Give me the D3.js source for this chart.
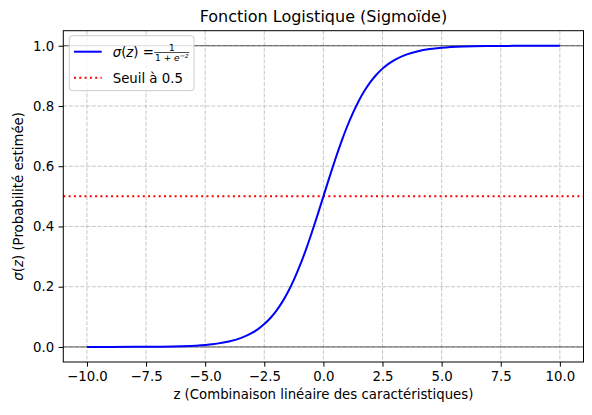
<!DOCTYPE html>
<html><head><meta charset="utf-8">
<script src="https://cdn.jsdelivr.net/npm/d3@7"></script>
<style>body{margin:0;background:#fff}svg{display:block;font-family:"DejaVu Sans",sans-serif}</style>
</head><body>
<svg id="c" width="592" height="415"></svg>
<script>
// Data
const zValues = [-10,-9,-8,-7,-6,-5,-4.5,-4,-3.5,-3,-2.75,-2.5,-2.25,-2,-1.75,-1.5,-1.25,-1,-0.75,-0.5,-0.25,0,
                 0.25,0.5,0.75,1,1.25,1.5,1.75,2,2.25,2.5,2.75,3,3.5,4,4.5,5,6,7,8,9,10];
const sigmaValues = [0.00005,0.00012,0.00034,0.00091,0.0025,0.0067,0.011,0.018,0.0293,0.0474,0.060,0.0759,0.0953,0.1192,0.148,0.1824,0.2227,0.2689,0.3208,0.3775,0.4378,0.5,
                 0.5622,0.6225,0.6792,0.7311,0.7773,0.8176,0.852,0.8808,0.9047,0.9241,0.940,0.9526,0.9707,0.982,0.989,0.9933,0.9975,0.99909,0.99966,0.99988,0.99995];
const threshold = 0.5;
const xTicks = [-10,-7.5,-5,-2.5,0,2.5,5,7.5,10];
const yTicks = [0,0.2,0.4,0.6,0.8,1.0];
const xDomain = [-11, 11];
const yDomain = [-0.05, 1.05];
const refLines = [0, 1];

const svg = d3.select("#c");
const L = 63.3, R = 583.5, T = 30.7, B = 362;
const x = d3.scaleLinear().domain(xDomain).range([L, R]);
const y = d3.scaleLinear().domain(yDomain).range([B, T]);

// grid
const grid = svg.append("g").attr("stroke", "#b0b0b0").attr("stroke-opacity", 0.7)
  .attr("stroke-width", 1).attr("stroke-dasharray", "4,1.7");
grid.selectAll(".gx").data(xTicks).join("line")
  .attr("x1", d => x(d)).attr("x2", d => x(d)).attr("y1", T).attr("y2", B);
grid.selectAll(".gy").data(yTicks).join("line")
  .attr("y1", d => y(d)).attr("y2", d => y(d)).attr("x1", L).attr("x2", R);

// reference lines at 0 and 1
svg.append("g").selectAll("line").data(refLines).join("line")
  .attr("x1", L).attr("x2", R).attr("y1", d => y(d)).attr("y2", d => y(d))
  .attr("stroke", "#000").attr("stroke-width", 0.8).attr("stroke-opacity", 0.8);

// threshold
svg.append("line").attr("x1", L).attr("x2", R).attr("y1", y(threshold)).attr("y2", y(threshold))
  .attr("stroke", "#ff0000").attr("stroke-width", 2).attr("stroke-dasharray", "2,3.3");

// sigmoid curve
const pts = zValues.map((z, i) => [z, sigmaValues[i]]);
svg.append("path").datum(pts)
  .attr("d", d3.line().x(d => x(d[0])).y(d => y(d[1])).curve(d3.curveMonotoneX))
  .attr("fill", "none").attr("stroke", "#0000ff").attr("stroke-width", 2);

// axes
const xa = svg.append("g").attr("transform", `translate(0,${B})`)
  .call(d3.axisBottom(x).tickValues(xTicks).tickSizeOuter(0).tickSize(4.7).tickPadding(4.5)
    .tickFormat(d => d3.format(".1f")(d).replace("-", "\u2212")));
const ya = svg.append("g").attr("transform", `translate(${L},0)`)
  .call(d3.axisLeft(y).tickValues(yTicks).tickSizeOuter(0).tickSize(4.7).tickPadding(4.5)
    .tickFormat(d3.format(".1f")));
[xa, ya].forEach(g => {
  g.select(".domain").remove();
  g.selectAll(".tick line").attr("stroke", "#000").attr("stroke-width", 1);
  g.selectAll(".tick text").attr("fill", "#000").attr("font-size", 13.3).attr("font-family", "DejaVu Sans");
});
// frame
svg.append("rect").attr("x", L).attr("y", T).attr("width", R - L).attr("height", B - T)
  .attr("fill", "none").attr("stroke", "#000").attr("stroke-width", 1);

// title & labels
svg.append("text").attr("x", (L + R) / 2).attr("y", 22).attr("text-anchor", "middle")
  .attr("font-size", 16).text("Fonction Logistique (Sigmoïde)");
svg.append("text").attr("x", (L + R) / 2).attr("y", 399).attr("text-anchor", "middle")
  .attr("font-size", 13.3).text("z (Combinaison linéaire des caractéristiques)");
const yl = svg.append("text").attr("transform", `translate(23,${(T + B) / 2}) rotate(-90)`)
  .attr("text-anchor", "middle").attr("font-size", 13.3);
yl.append("tspan").attr("font-style", "italic").text("σ");
yl.append("tspan").text("(");
yl.append("tspan").attr("font-style", "italic").text("z");
yl.append("tspan").text(") (Probabilité estimée)");

// legend
const lg = svg.append("g");
lg.append("rect").attr("x", 69.3).attr("y", 35.7).attr("width", 124.7).attr("height", 55)
  .attr("rx", 3).attr("fill", "#fff").attr("fill-opacity", 0.8)
  .attr("stroke", "#cccccc").attr("stroke-width", 1);
lg.append("line").attr("x1", 74).attr("x2", 101.7).attr("y1", 51.7).attr("y2", 51.7)
  .attr("stroke", "#0000ff").attr("stroke-width", 2);
lg.append("line").attr("x1", 74).attr("x2", 101.7).attr("y1", 77.7).attr("y2", 77.7)
  .attr("stroke", "#ff0000").attr("stroke-width", 2).attr("stroke-dasharray", "2,3.3");
const t1 = lg.append("text").attr("x", 112.7).attr("y", 56.5).attr("font-size", 13.3);
t1.append("tspan").attr("font-style", "italic").text("σ");
t1.append("tspan").text("(");
t1.append("tspan").attr("font-style", "italic").text("z");
t1.append("tspan").text(") = ");
// fraction
const fx0 = 154.3, fx1 = 189.3, fc = (fx0 + fx1) / 2;
lg.append("text").attr("x", fc).attr("y", 50.5).attr("text-anchor", "middle").attr("font-size", 9).text("1");
lg.append("line").attr("x1", fx0).attr("x2", fx1).attr("y1", 52.5).attr("y2", 52.5)
  .attr("stroke", "#000").attr("stroke-width", 0.7);
const den = lg.append("text").attr("x", fc).attr("y", 61).attr("text-anchor", "middle").attr("font-size", 9);
den.append("tspan").text("1 + ");
den.append("tspan").attr("font-style", "italic").text("e");
den.append("tspan").attr("font-size", 6.5).attr("dy", -3.5).text("\u2212");
den.append("tspan").attr("font-size", 6.5).attr("font-style", "italic").text("z");
lg.append("text").attr("x", 112.7).attr("y", 82.7).attr("font-size", 13.3).text("Seuil à 0.5");
</script>
</body></html>
